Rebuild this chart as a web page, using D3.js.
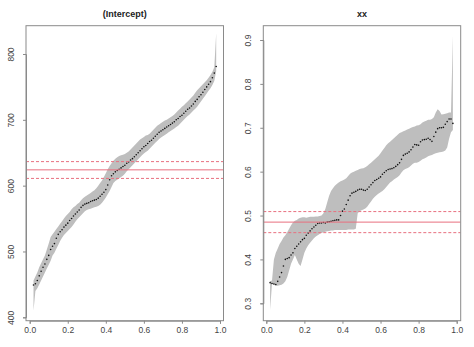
<!DOCTYPE html>
<html>
<head>
<meta charset="utf-8">
<script src="https://cdn.jsdelivr.net/npm/d3@7"></script>
<style>
  body { margin: 0; background: #fff; }
  svg { display: block; }
  text { font-family: "Liberation Sans", Arial, sans-serif; }
</style>
</head>
<body>
<svg id="chart" width="474" height="347"></svg>
<script>
// ---- data ----
const taus = d3.range(2, 99).map(d => d / 100); // 0.02 .. 0.98 by 0.01

const interceptEst = [449,451,456,463,470,476,481,488,494,503,508,512,520,526,530,533,537,540,543,547,550,554,557,560,563,567,570,572,573,574,576,577,578,579,581,584,587,590,594,601,609,615,618,621,623,625,627,629,631,634,636,639,641,644,647,650,653,656,659,661,664,667,669,672,675,678,681,683,685,687,689,691,693,695,697,700,702,705,707,710,713,716,718,721,724,728,731,735,738,742,746,750,754,758,764,771,781];
const interceptLo = [410,440,444,450,456,462,468,474,480,486,494,498,504,510,516,521,525,528,531,534,537,541,545,549,552,555,558,561,563,564,565,566,567,568,569,571,574,578,582,587,592,598,604,607,609,611,613,615,618,622,625,628,631,634,637,640,643,646,649,651,653,656,659,662,665,668,671,673,675,677,679,681,683,685,687,689,691,694,697,700,703,706,708,711,714,717,720,724,728,732,736,740,744,748,753,759,774];
const interceptHi = [456,462,468,476,482,488,494,503,512,522,526,530,534,538,542,546,550,554,557,560,564,567,569,572,574,578,581,583,585,587,589,591,593,596,600,604,608,613,619,625,630,634,638,641,643,645,646,647,648,650,652,655,658,661,664,667,670,672,674,676,677,679,682,685,688,691,693,695,697,699,700,702,704,706,708,711,714,717,720,722,725,728,731,734,737,741,745,748,751,754,757,760,764,768,773,780,832];
const interceptOls = [611, 624, 636.5]; // lower, estimate, upper

const xxEst = [0.347,0.345,0.344,0.343,0.350,0.360,0.370,0.385,0.400,0.402,0.404,0.410,0.415,0.425,0.430,0.435,0.440,0.445,0.448,0.455,0.460,0.465,0.470,0.474,0.478,0.482,0.483,0.483,0.484,0.483,0.485,0.486,0.487,0.488,0.489,0.490,0.490,0.500,0.510,0.515,0.525,0.535,0.545,0.551,0.553,0.555,0.558,0.560,0.560,0.558,0.557,0.560,0.565,0.570,0.575,0.580,0.582,0.585,0.588,0.594,0.598,0.602,0.605,0.606,0.607,0.609,0.612,0.616,0.620,0.628,0.637,0.640,0.642,0.645,0.650,0.656,0.662,0.661,0.660,0.668,0.672,0.673,0.674,0.676,0.673,0.669,0.680,0.690,0.698,0.700,0.700,0.701,0.708,0.714,0.720,0.720,0.710];
const xxLo = [0.285,0.345,0.342,0.340,0.340,0.341,0.342,0.345,0.350,0.360,0.375,0.390,0.400,0.410,0.400,0.390,0.385,0.400,0.415,0.425,0.432,0.438,0.443,0.448,0.452,0.455,0.458,0.460,0.462,0.463,0.464,0.465,0.466,0.466,0.467,0.467,0.467,0.467,0.467,0.467,0.467,0.468,0.468,0.468,0.468,0.470,0.505,0.510,0.512,0.514,0.516,0.520,0.526,0.532,0.538,0.543,0.547,0.550,0.553,0.556,0.560,0.565,0.570,0.575,0.578,0.582,0.585,0.588,0.592,0.598,0.603,0.606,0.608,0.610,0.614,0.618,0.620,0.620,0.622,0.625,0.628,0.630,0.632,0.635,0.637,0.638,0.640,0.642,0.643,0.644,0.645,0.646,0.648,0.655,0.675,0.690,0.695];
const xxHi = [0.350,0.352,0.400,0.415,0.425,0.435,0.442,0.450,0.455,0.462,0.470,0.478,0.484,0.488,0.490,0.493,0.495,0.496,0.496,0.495,0.496,0.497,0.497,0.497,0.498,0.498,0.499,0.500,0.505,0.515,0.530,0.545,0.556,0.562,0.568,0.572,0.575,0.578,0.580,0.582,0.585,0.590,0.595,0.598,0.600,0.602,0.604,0.606,0.607,0.608,0.610,0.613,0.617,0.620,0.624,0.628,0.632,0.636,0.642,0.648,0.654,0.660,0.665,0.668,0.672,0.676,0.680,0.684,0.688,0.690,0.692,0.694,0.696,0.698,0.700,0.702,0.703,0.705,0.706,0.708,0.712,0.714,0.716,0.718,0.718,0.720,0.724,0.735,0.742,0.738,0.730,0.731,0.732,0.733,0.735,0.735,0.910];
const xxOls = [0.461, 0.485, 0.509];

const xTicks = [0, 0.2, 0.4, 0.6, 0.8, 1.0];
const interceptTicks = [400, 500, 600, 700, 800];
const xxTicks = [0.3, 0.4, 0.5, 0.6, 0.7, 0.8, 0.9];

const panels = [
  { title: "(Intercept)", est: interceptEst, lo: interceptLo, hi: interceptHi, ols: interceptOls,
    yTicks: interceptTicks, yDomain: [400, 800], fmt: d3.format("d"),
    xr: [29.7, 220], yr: [317.3, 54], box: [26, 25.7, 223.5, 320.7] },
  { title: "xx", est: xxEst, lo: xxLo, hi: xxHi, ols: xxOls,
    yTicks: xxTicks, yDomain: [0.3, 0.9], fmt: d3.format(".1f"),
    xr: [266.3, 456.7], yr: [303.3, 40], box: [263.3, 25.7, 460.7, 320.7] }
];

const svg = d3.select("#chart");

panels.forEach(p => {
  const x = d3.scaleLinear().domain([0, 1]).range(p.xr);
  const y = d3.scaleLinear().domain(p.yDomain).range(p.yr);
  const [bx0, by0, bx1, by1] = p.box;
  const g = svg.append("g");

  const rows = taus.map((t, i) => ({ t, est: p.est[i], lo: p.lo[i], hi: p.hi[i] }));

  // clip to box
  const clipId = "clip" + p.title.replace(/\W/g, "");
  svg.append("clipPath").attr("id", clipId)
    .append("rect").attr("x", bx0).attr("y", by0).attr("width", bx1 - bx0).attr("height", by1 - by0);
  const inner = g.append("g").attr("clip-path", `url(#${clipId})`);

  // confidence band
  inner.append("path")
    .datum(rows)
    .attr("d", d3.area().x(d => x(d.t)).y0(d => y(d.lo)).y1(d => y(d.hi)))
    .attr("fill", "#bebebe");

  // estimates
  inner.selectAll("circle.pt").data(rows).join("circle")
    .attr("cx", d => x(d.t)).attr("cy", d => y(d.est))
    .attr("r", 0.8).attr("fill", "#111");

  // OLS lines
  p.ols.forEach((v, i) => {
    inner.append("line")
      .attr("x1", bx0).attr("x2", bx1)
      .attr("y1", y(v)).attr("y2", y(v))
      .attr("stroke", "#e8707f").attr("stroke-width", 1)
      .attr("stroke-dasharray", i === 1 ? null : "3,2");
  });

  // box
  g.append("rect").attr("x", bx0).attr("y", by0)
    .attr("width", bx1 - bx0).attr("height", by1 - by0)
    .attr("fill", "none").attr("stroke", "#8a8a8a").attr("stroke-width", 1);

  // x axis
  const xa = g.append("g").attr("transform", `translate(0,${by1})`)
    .call(d3.axisBottom(x).tickValues(xTicks).tickFormat(d3.format(".1f")).tickSize(3).tickPadding(3));
  xa.select(".domain").attr("stroke", "#8a8a8a");
  xa.selectAll(".tick line").attr("stroke", "#8a8a8a");
  xa.selectAll("text").attr("fill", "#444").style("font-size", "8.5px")
    .style("font-family", "'Liberation Sans', Arial, sans-serif");

  // y axis
  const ya = g.append("g").attr("transform", `translate(${bx0},0)`)
    .call(d3.axisLeft(y).tickValues(p.yTicks).tickFormat(p.fmt).tickSize(3));
  ya.select(".domain").attr("stroke", "#8a8a8a");
  ya.selectAll(".tick line").attr("stroke", "#8a8a8a");
  ya.selectAll("text")
    .attr("x", null).attr("dy", null)
    .attr("transform", "translate(-12,0) rotate(-90)")
    .attr("text-anchor", "middle")
    .attr("fill", "#444").style("font-size", "8.5px")
    .style("font-family", "'Liberation Sans', Arial, sans-serif");

  // title
  g.append("text").attr("x", (bx0 + bx1) / 2).attr("y", 17)
    .attr("text-anchor", "middle").attr("font-weight", "bold")
    .attr("font-size", "9px").attr("fill", "#222")
    .text(p.title);
});
</script>
</body>
</html>
